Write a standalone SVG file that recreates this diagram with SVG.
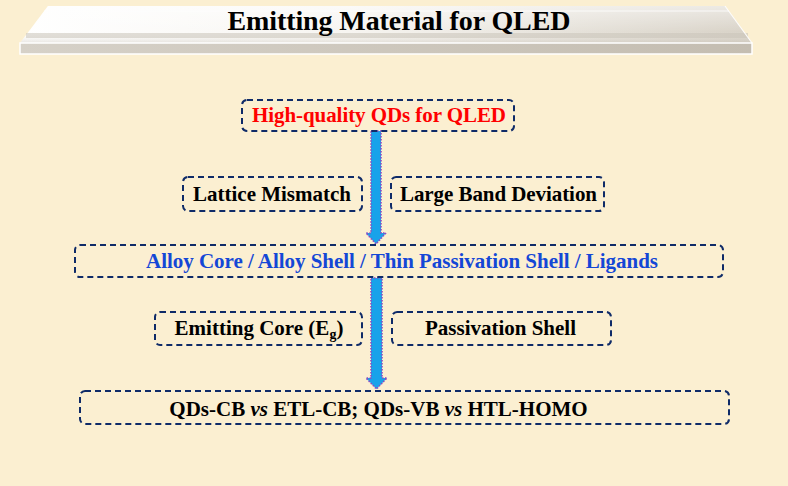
<svg xmlns="http://www.w3.org/2000/svg" width="788" height="486" viewBox="0 0 788 486">
<defs>
<style>
.box{fill:none;stroke:#0f2b68;stroke-width:2;stroke-dasharray:6 4;}
.arrow{fill:#18a2ea;stroke:#8a4cc4;stroke-width:1.6;stroke-dasharray:1.5 1.5;}
.t{font-family:'Liberation Serif',serif;font-weight:bold;font-size:21px;text-anchor:middle;}
</style>
<linearGradient id="topface" x1="0" y1="0" x2="1" y2="0">
<stop offset="0" stop-color="#ffffff"/>
<stop offset="0.45" stop-color="#f7f5f1"/>
<stop offset="1" stop-color="#d8d2c7"/>
</linearGradient>
<linearGradient id="topv" x1="0" y1="0" x2="0" y2="1">
<stop offset="0" stop-color="#ffffff" stop-opacity="0.5"/>
<stop offset="0.7" stop-color="#ffffff" stop-opacity="0"/>
<stop offset="1" stop-color="#bdb6aa" stop-opacity="0.35"/>
</linearGradient>
<linearGradient id="front" x1="0" y1="0" x2="1" y2="0">
<stop offset="0" stop-color="#d6d1c8"/>
<stop offset="1" stop-color="#c4bdb1"/>
</linearGradient>
</defs>
<rect width="788" height="486" fill="#fbefd1"/>

<g id="banner">
<polygon points="48,6 725,6 752,43 20,43" fill="url(#topface)"/>
<polygon points="48,6 725,6 752,43 20,43" fill="url(#topv)"/>
<rect x="26" y="33" width="722" height="5" fill="#c9c3b8" opacity="0.55"/>
<line x1="44" y1="11" x2="729" y2="11" stroke="#ffffff" stroke-width="1" opacity="0.8"/>
<line x1="725" y1="6" x2="752" y2="43" stroke="#ffffff" stroke-width="1.2" opacity="0.9"/>
<rect x="20" y="43" width="732" height="11" fill="url(#front)" stroke="#ffffff" stroke-width="1.5"/>
<text x="399" y="30" class="t" font-family="Liberation Serif" font-weight="bold" font-size="28" style="font-size:28px" text-anchor="middle" textLength="343">Emitting Material for QLED</text>
</g>

<g id="connectors">
<polygon class="arrow" points="371,131 381,131 381,233 386,233 376,244 366,233 371,233"/>
<polygon class="arrow" points="371,278 382,278 382,378 387,378 376.5,389 366,378 371,378"/>
</g>

<g id="n1">
<rect class="box" x="242" y="100" width="272" height="31" rx="5"/>
<text x="379" y="122" class="t" fill="#ff0000" textLength="254">High-quality QDs for QLED</text>
</g>
<g id="n2">
<rect class="box" x="183" y="177" width="179" height="34" rx="5"/>
<text x="272" y="201" class="t" textLength="158">Lattice Mismatch</text>
</g>
<g id="n3">
<rect class="box" x="391" y="177" width="213" height="34" rx="5"/>
<text x="498.5" y="201" class="t" textLength="197">Large Band Deviation</text>
</g>
<g id="n4">
<rect class="box" x="75" y="245" width="648" height="32" rx="5"/>
<text x="402" y="268" class="t" fill="#1447d6" textLength="512">Alloy Core / Alloy Shell / Thin Passivation Shell / Ligands</text>
</g>
<g id="n5">
<rect class="box" x="155" y="312" width="207" height="33" rx="5"/>
<text x="259" y="335" class="t">Emitting Core (E<tspan style="font-size:14px" dy="4">g</tspan><tspan dy="-4">)</tspan></text>
</g>
<g id="n6">
<rect class="box" x="392" y="312" width="219" height="33" rx="5"/>
<text x="500.5" y="335" class="t" textLength="151">Passivation Shell</text>
</g>
<g id="n7">
<rect class="box" x="80" y="391" width="649" height="33" rx="5"/>
<text x="378.5" y="416" class="t">QDs-CB <tspan font-style="italic">vs</tspan> ETL-CB; QDs-VB <tspan font-style="italic">vs</tspan> HTL-HOMO</text>
</g>
</svg>
